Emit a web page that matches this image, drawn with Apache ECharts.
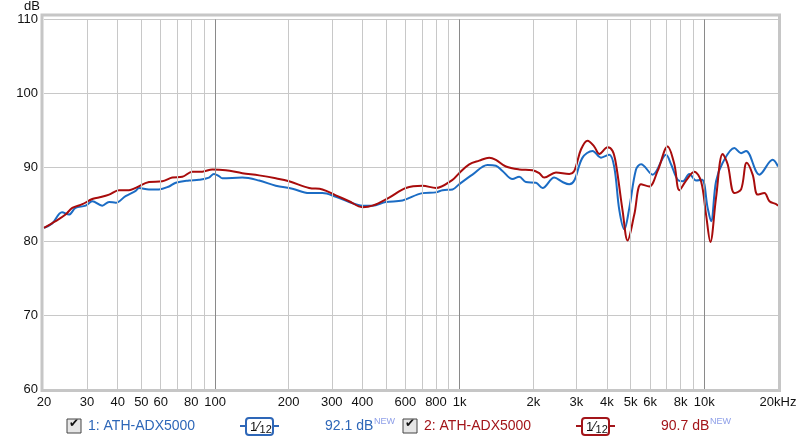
<!DOCTYPE html>
<html>
<head>
<meta charset="utf-8">
<script src="https://cdn.jsdelivr.net/npm/echarts@6/dist/echarts.min.js"></script>
<style>
  html, body { margin: 0; padding: 0; background: #fff; }
  #chart { width: 800px; height: 441px; }
</style>
</head>
<body>
<div id="chart"></div>
<script>
// frequency response, two measurements of the same headphone
var freqs1 = [20, 21.6, 23.7, 25.3, 26.9, 29.6, 31.5, 34.6, 36.9, 39.3, 43.1, 47.4, 48.9, 53.7, 59, 64.9, 69.1, 78.3, 86, 94.5, 99, 103.8, 107.1, 129.3, 151.4, 177.1, 207.1, 242.4, 274.8, 311.7, 353.3, 400.5, 440, 499, 583.5, 704.6, 799.3, 850.6, 934.6, 995, 1128, 1299, 1406, 1496, 1644, 1751, 1866, 2050, 2182, 2435, 2633, 2805, 2940, 3178, 3492, 3780, 4088, 4285, 4492, 4708, 4936, 5256, 5510, 6148, 6972, 7309, 7779, 8154, 8685, 9251, 9786, 10316, 10652, 11165, 11880, 13268, 14131, 14810, 16788, 19030, 20000];
var db1 = [81.8, 82.4, 83.9, 83.6, 84.5, 84.8, 85.4, 84.8, 85.3, 85.2, 86.1, 86.8, 87.2, 87.0, 87.0, 87.4, 87.9, 88.2, 88.3, 88.6, 89.1, 88.8, 88.5, 88.6, 88.2, 87.5, 87.1, 86.5, 86.5, 86.0, 85.3, 84.8, 84.8, 85.3, 85.5, 86.5, 86.6, 86.9, 87.0, 87.7, 89.0, 90.3, 90.2, 89.5, 88.4, 88.7, 88.0, 87.9, 87.2, 88.6, 88.0, 87.7, 88.2, 91.3, 92.2, 91.3, 91.7, 90.0, 84.2, 81.6, 84.5, 89.7, 90.4, 89.0, 91.7, 90.4, 88.3, 88.1, 89.1, 88.2, 88.3, 84.5, 82.7, 88.1, 90.6, 92.6, 91.9, 92.2, 89.0, 91.0, 90.1];

var freqs2 = [20, 22.3, 24.5, 26.1, 28.7, 31.5, 33.5, 36.9, 40.5, 44.5, 47.4, 53.7, 60.9, 66.9, 73.5, 80.8, 88.7, 97.5, 110.6, 129.3, 151.4, 177.1, 200.7, 242.4, 274.8, 311.7, 353.3, 400.5, 440, 514.8, 602.6, 704.6, 799.3, 934.6, 995, 1094, 1202, 1320, 1406, 1545, 1751, 1985, 2114, 2216, 2475, 2805, 2940, 3131, 3332, 3548, 3720, 4022, 4217, 4355, 4634, 4857, 5172, 5510, 5960, 6442, 7079, 7540, 7905, 8419, 9103, 9694, 10162, 10581, 11165, 11880, 12453, 13268, 14131, 14893, 15757, 16519, 17600, 18448, 19650, 20000];
var db2 = [81.8, 82.7, 83.6, 84.5, 85.0, 85.7, 85.9, 86.3, 86.9, 86.9, 87.2, 88.0, 88.1, 88.6, 88.7, 89.4, 89.4, 89.7, 89.6, 89.2, 88.9, 88.5, 88.1, 87.2, 87.0, 86.2, 85.4, 84.6, 84.8, 85.9, 87.2, 87.5, 87.2, 88.3, 89.2, 90.4, 90.9, 91.3, 91.0, 90.1, 89.7, 89.6, 89.2, 88.6, 89.3, 89.1, 89.5, 92.4, 93.6, 92.8, 91.8, 92.7, 92.2, 90.4, 84.1, 80.1, 83.6, 87.7, 87.4, 89.5, 92.8, 90.4, 86.9, 88.2, 89.4, 88.1, 83.6, 79.9, 85.9, 91.8, 90.4, 86.5, 87.0, 90.6, 89.0, 86.3, 86.5, 85.4, 85.0, 84.8];

var tickFreqs = [20, 30, 40, 50, 60, 80, 100, 200, 300, 400, 600, 800, 1000, 2000, 3000, 4000, 5000, 6000, 8000, 10000, 20000];
var tickLabels = ['20', '30', '40', '50', '60', '80', '100', '200', '300', '400', '600', '800', '1k', '2k', '3k', '4k', '5k', '6k', '8k', '10k', '20kHz'];
var minorGrid = [30, 40, 50, 60, 70, 80, 90, 200, 300, 400, 500, 600, 700, 800, 900, 2000, 3000, 4000, 5000, 6000, 7000, 8000, 9000];
var majorGrid = [100, 1000, 10000];

var legend1 = { name: '1: ATH-ADX5000', level: '92.1 dB' };
var legend2 = { name: '2: ATH-ADX5000', level: '90.7 dB' };

var blue = '#1b6cc4', red = '#a80c0c';
var blueTxt = '#2e67b8', redTxt = '#a3151a';

function pairs(f, d) {
  var out = [];
  for (var i = 0; i < f.length; i++) out.push([f[i], d[i]]);
  return out;
}

function gridLines(vals, color) {
  return vals.map(function (v) {
    return { xAxis: v, lineStyle: { color: color, width: 1, type: 'solid' } };
  });
}

function legendBlock(x, item, col) {
  var els = [];
  // checkbox
  els.push({ type: 'rect', shape: { x: x, y: 419, width: 14, height: 14 },
    style: { fill: '#e6e6e6', stroke: '#444', lineWidth: 1 } });
  els.push({ type: 'text', x: x + 2, y: 418, style: { text: '✔', font: '12px "DejaVu Sans"', fill: '#111' } });
  els.push({ type: 'text', x: x + 21, y: 419, style: { text: item.name, font: '14px "Liberation Sans"', fill: col } });
  // smoothing icon
  var ix = x + 173;
  els.push({ type: 'line', shape: { x1: ix, y1: 426, x2: ix + 39, y2: 426 }, style: { stroke: col, lineWidth: 2 } });
  els.push({ type: 'rect', shape: { x: ix + 6, y: 418, width: 27, height: 17, r: 3 },
    style: { fill: '#fff', stroke: col, lineWidth: 2 } });
  els.push({ type: 'text', x: ix + 10, y: 419, style: {
    text: '{a|1}{b|⁄}{c|12}', fill: '#111',
    rich: { a: { font: '13px "Liberation Sans"' }, b: { font: '14px "Liberation Sans"' }, c: { font: '11px "Liberation Sans"', padding: [5, 0, 0, 0] } }
  } });
  els.push({ type: 'text', x: x + 258, y: 419, style: { text: item.level, font: '14px "Liberation Sans"', fill: col } });
  els.push({ type: 'text', x: x + 307, y: 417, style: { text: 'NEW', font: '9px "Liberation Sans"', fill: '#8d9ee8' } });
  return els;
}

var chart = echarts.init(document.getElementById('chart'));

var option = {
  backgroundColor: '#fff',
  animation: false,
  grid: { left: 44, right: 22, top: 17, bottom: 52 },
  xAxis: {
    type: 'log', logBase: 10, min: 20, max: 20000,
    axisLine: { show: false },
    axisTick: { show: false },
    splitLine: { show: false },
    axisLabel: {
      customValues: tickFreqs,
      color: '#111', fontSize: 13, fontFamily: 'Liberation Sans', margin: 7,
      formatter: function (v) {
        var i = tickFreqs.indexOf(Math.round(v));
        return i >= 0 ? tickLabels[i] : '';
      }
    }
  },
  yAxis: {
    type: 'value', min: 60, max: 110, interval: 10,
    name: 'dB', nameGap: 3,
    nameTextStyle: { color: '#111', fontSize: 13, fontFamily: 'Liberation Sans', align: 'right', padding: [0, 4, 0, 0] },
    axisLine: { show: false },
    axisTick: { show: false },
    axisLabel: { color: '#111', fontSize: 13, fontFamily: 'Liberation Sans', margin: 6 },
    splitLine: { lineStyle: { color: '#c8c8c8', width: 1 } }
  },
  graphic: [
    { type: 'rect', shape: { x: 42, y: 15, width: 737.5, height: 375.5 },
      style: { fill: 'none', stroke: '#c6c6c6', lineWidth: 3 }, z: 100 }
  ].concat(legendBlock(67, legend1, blueTxt), legendBlock(403, legend2, redTxt)),
  series: [
    {
      type: 'line', data: [], silent: true,
      markLine: {
        silent: true, symbol: 'none', label: { show: false }, animation: false,
        data: gridLines(minorGrid, '#c8c8c8').concat(gridLines(majorGrid, '#8a8a8a'))
      }
    },
    {
      name: legend1.name, type: 'line', data: pairs(freqs1, db1),
      showSymbol: false, smooth: 0.35, z: 3,
      lineStyle: { color: blue, width: 2 }
    },
    {
      name: legend2.name, type: 'line', data: pairs(freqs2, db2),
      showSymbol: false, smooth: 0.35, z: 4,
      lineStyle: { color: red, width: 2 }
    }
  ]
};

chart.setOption(option);
</script>
</body>
</html>
